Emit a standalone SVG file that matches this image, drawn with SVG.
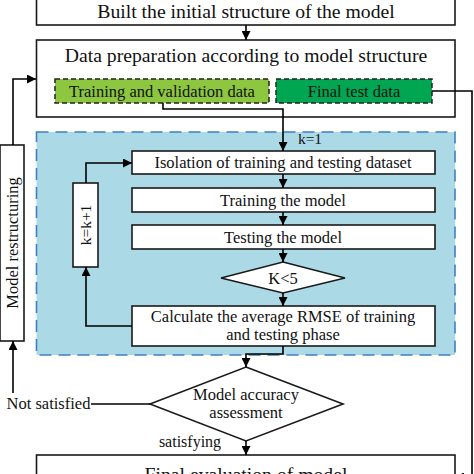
<svg xmlns="http://www.w3.org/2000/svg" width="474" height="474" viewBox="0 0 474 474">
<defs>
<marker id="ah" viewBox="0 0 10 10" refX="10" refY="5" markerWidth="9" markerHeight="9" markerUnits="userSpaceOnUse" orient="auto"><path d="M0,0 L10,5 L0,10 z" fill="#000"/></marker>
<style>
.box{fill:#fff;stroke:#1a1a1a;stroke-width:1.6}
.t{font-family:"Liberation Serif","Times New Roman",serif;fill:#111;text-anchor:middle}
.c{fill:none;stroke:#000;stroke-width:1.6}
.g{stroke:#222;stroke-width:1.5;stroke-dasharray:5,3}
</style>
</defs>
<rect width="474" height="474" fill="#fff"/>
<g id="region">
<rect x="36.5" y="132" width="418.5" height="223" fill="#acd9e6" stroke="#3f7fc0" stroke-width="1.6" stroke-dasharray="12,7"/>
</g>
<g id="n1"><rect class="box" x="36.5" y="-5" width="418.5" height="30"/><text class="t" x="246" y="18" font-size="19.7">Built the initial structure of the model</text></g>
<g id="n2"><rect class="box" x="36.5" y="40" width="418.5" height="77"/><text class="t" x="246" y="62" font-size="19.7">Data preparation according to model structure</text></g>
<g id="n2a"><rect class="g" x="55" y="79" width="214" height="24" fill="#8dc63f"/><text class="t" x="162" y="97" font-size="16.5">Training and validation data</text></g>
<g id="n2b"><rect class="g" x="276" y="79" width="156" height="24" fill="#00a651"/><text class="t" x="354" y="97" font-size="16.5">Final test data</text></g>
<g id="n3"><rect class="box" x="0" y="145" width="24" height="196"/><text class="t" transform="translate(18,243) rotate(-90)" font-size="16.5">Model restructuring</text></g>
<g id="n4"><rect class="box" x="132" y="151" width="303" height="23"/><text class="t" x="283" y="168" font-size="16.5">Isolation of training and testing dataset</text></g>
<g id="n5"><rect class="box" x="132" y="188" width="303" height="24"/><text class="t" x="283" y="206" font-size="16.5">Training the model</text></g>
<g id="n6"><rect class="box" x="132" y="225" width="303" height="24"/><text class="t" x="283" y="243" font-size="16.5">Testing the model</text></g>
<g id="n7"><path class="box" d="M283,262 L345,278 L283,293 L221,278 Z"/><text class="t" x="283" y="284" font-size="16.5">K&lt;5</text></g>
<g id="n8"><rect class="box" x="132" y="306" width="303" height="40"/><text class="t" x="283" y="322" font-size="16.5">Calculate the average RMSE of training</text><text class="t" x="283" y="340" font-size="16.5">and testing phase</text></g>
<g id="n9"><rect class="box" x="73" y="183" width="25" height="84"/><text class="t" transform="translate(91,225) rotate(-90)" font-size="15.5">k=k+1</text></g>
<g id="n10"><path class="box" d="M246,367 L343,404 L246,441 L150,404 Z"/><text class="t" x="246" y="400" font-size="16.5">Model accuracy</text><text class="t" x="246" y="418" font-size="16.5">assessment</text></g>
<g id="n11"><rect class="box" x="36.5" y="455" width="418.5" height="40"/><text class="t" x="246" y="481" font-size="19.7">Final evaluation of model</text></g>
<g id="connectors">
<path class="c" d="M246,25 V40" marker-end="url(#ah)"/>
<path class="c" d="M163,103 V109 H283 V151" marker-end="url(#ah)"/>
<path class="c" d="M283,174 V188" marker-end="url(#ah)"/>
<path class="c" d="M283,212 V225" marker-end="url(#ah)"/>
<path class="c" d="M283,249 V262" marker-end="url(#ah)"/>
<path class="c" d="M283,293 V306" marker-end="url(#ah)"/>
<path class="c" d="M132,326 H86 V267" marker-end="url(#ah)"/>
<path class="c" d="M86,183 V163 H132" marker-end="url(#ah)"/>
<path class="c" d="M283,346 V354 H246 V367" marker-end="url(#ah)"/>
<path class="c" d="M246,441 V455" marker-end="url(#ah)"/>
<path class="c" d="M150,404 H91"/>
<path class="c" d="M13,393 V341" marker-end="url(#ah)"/>
<path class="c" d="M13,145 V79 H36" marker-end="url(#ah)"/>
<path class="c" d="M432,91 H472 V477 H455" marker-end="url(#ah)"/>
<text class="t" x="310" y="144" font-size="15.5">k=1</text>
<text class="t" x="48.5" y="409" font-size="16.5">Not satisfied</text>
<text class="t" x="190" y="447" font-size="16">satisfying</text>
</g>
</svg>
